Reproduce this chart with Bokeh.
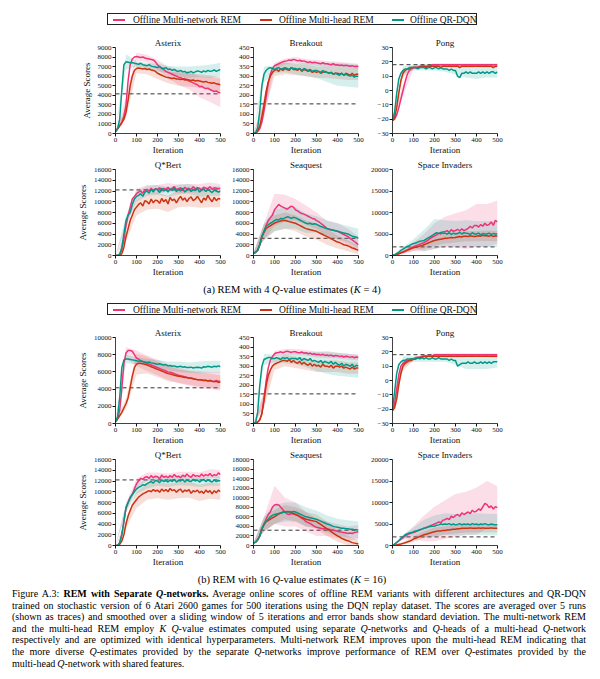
from bokeh.plotting import figure
from bokeh.layouts import column, row
from bokeh.models import Div, FixedTicker, Range1d, Span
from bokeh.embed import file_html
from bokeh.resources import INLINE

FONT = "Liberation Serif"
ITER = list(range(0, 501, 10))
BAND_ITER = list(range(0, 501, 50))

SERIES = ["Offline Multi-network REM", "Offline Multi-head REM", "Offline QR-DQN"]
COLORS = ["#ee3377", "#cc3311", "#009988"]
GAMES = ["Asterix", "Breakout", "Pong", "Q*Bert", "Seaquest", "Space Invaders"]
DQN_SCORE = [4150, 155, 18, 12200, 3200, 2000]
YMIN = [0, 0, -30, 0, 0, 0]
K4_YMAX = [9000, 450, 30, 16000, 16000, 20000]
K4_YSTEP = [1000, 50, 10, 2000, 2000, 5000]
K16_YMAX = [10000, 450, 30, 16000, 18000, 20000]
K16_YSTEP = [2000, 50, 10, 2000, 2000, 5000]
X_TICKS = [0, 100, 200, 300, 400, 500]

# ---------------- K = 4 ----------------
K4_ASTERIX_MULTINET = [200,500,800,1200,1800,3000,5500,7200,7800,8000,8050, 8000,7950,8000,7900,7850, 7800,7750,7700,7500,7200, 7000,6800,6700,6500,6400, 6300,6200,6100,6000,5900, 5850,5700,5750,5600,5500, 5400,5300,5200,5100,4900, 4950,4800,4700,4750,4600, 4500,4400,4450,4300,4250]
K4_ASTERIX_MULTIHEAD = [200,500,800,1100,1500,2200,3500,5000,6000,6600,6800, 6850,6800,6750,6800,6700, 6750,6650,6600,6500,6300, 6200,6100,6000,5900,5850, 5800,5750,5800,5700,5700, 5650,5700,5600,5650,5600, 5550,5600,5500,5550,5500, 5450,5400,5450,5350,5300, 5250,5300,5200,5150,5100]
K4_ASTERIX_QRDQN = [200,500,1500,4500,7200,7500,7450,7400,7420,7350,7300, 7250,7350,7200,7150,7100, 7200,7050,7000,6950,6900, 7000,6850,6800,6900,6700, 6750,6600,6700,6550,6500, 6600,6450,6500,6350,6400, 6500,6350,6450,6550,6500, 6400,6550,6450,6600,6500, 6550,6650,6500,6600,6700]
K4_ASTERIX_MULTINET_SD = [100,800,400,400,500,600,800,900,1100,1300,1500]
K4_ASTERIX_MULTIHEAD_SD = [100,600,500,500,600,600,700,700,700,800,800]
K4_ASTERIX_QRDQN_SD = [100,800,300,300,400,400,500,600,600,700,700]

K4_BREAKOUT_MULTINET = [0,3,10,25,60,120,190,260,310,340,355, 360,365,370,375,378, 380,385,382,388,385, 380,383,378,380,375, 372,375,370,373,370, 368,365,370,365,365, 362,360,365,358,360, 356,358,355,357,355, 352,355,350,352,350]
K4_BREAKOUT_MULTIHEAD = [0,3,15,40,90,150,220,270,300,320,330, 335,325,340,330,340, 335,330,345,335,335, 330,340,325,335,330, 325,330,320,325,320, 325,315,320,325,320, 315,320,310,315,315, 310,315,305,315,310, 305,315,305,310,310]
K4_BREAKOUT_QRDQN = [0,5,30,120,250,310,330,340,345,340,335, 340,345,335,340,345, 340,335,345,340,340, 335,340,330,340,335, 330,335,325,330,330, 325,320,330,320,320, 315,320,310,315,310, 305,315,305,310,305, 300,305,295,300,300]
K4_BREAKOUT_MULTINET_SD = [2,40,15,15,15,15,15,15,15,15,15]
K4_BREAKOUT_MULTIHEAD_SD = [2,40,30,30,30,30,30,30,30,30,30]
K4_BREAKOUT_QRDQN_SD = [2,40,20,25,30,35,40,50,60,60,60]

K4_PONG_MULTINET = [-21,-20,-17,-12,-6,0,6,11,14,15,16, 16,16,17,17,17, 17,17,17,18,18, 18,18,18,18,18, 18,18,18,18,18, 18,18,18,18,18, 18,18,18,18,18, 18,18,18,18,18, 18,18,18,18,18]
K4_PONG_MULTIHEAD = [-21,-19,-12,-2,7,12,14,15,15,16,16, 16,16,16,17,17, 16,17,17,17,17, 17,17,16,17,17, 17,17,17,17,17, 17,16,17,17,17, 17,17,17,17,17, 17,17,17,17,17, 17,17,16,17,17]
K4_PONG_QRDQN = [-21,-15,-2,8,12,14,15,15,16,16,16, 16,15,16,16,16, 15,16,16,15,16, 16,15,16,15,15, 15,14,15,14,14, 10,9,12,12,13, 12,13,12,12,12, 13,12,13,12,13, 12,13,13,12,13]
K4_PONG_MULTINET_SD = [0.5,4,1,1,1,1,1,1,1,1,1]
K4_PONG_MULTIHEAD_SD = [0.5,3,1,1,1,1,1,1,1,1,1]
K4_PONG_QRDQN_SD = [0.5,3,2,2,2,2,3,4,4,4,4]

K4_QBERT_MULTINET = [0,0,200,1000,3000,5500,7500,9000,10500,11000,11500, 11800,12000,11600,12200,12300, 12000,12500,12100,12400,12300, 12600,12000,12500,12300,12700, 12200,12500,12800,12300,12400, 12600,12100,12700,12400,12500, 12300,12800,12400,12600,12500, 12200,12700,12500,12400,12800, 12300,12600,12500,12400,12500]
K4_QBERT_MULTIHEAD = [0,0,100,300,1500,3500,5000,6500,7500,8500,9000, 9500,9800,9200,10200,10000, 9600,10500,9800,10300,10200, 9700,10600,10000,10400,9600, 10800,10200,10500,9800,10500, 11000,10300,10700,10000,10600, 10900,10200,10500,11000,10400, 9800,10700,10300,11200,10500, 10000,10800,10200,10600,10500]
K4_QBERT_QRDQN = [0,0,300,1500,4000,6500,7500,8000,9500,10500,11000, 11200,11500,11000,11800,12000, 11600,12300,11800,12400,12200, 11700,12500,12000,12300,11800, 12400,12100,12600,11900,12300, 12000,12500,11800,12200,12400, 11900,12300,12100,12500,11800, 12200,12400,11900,12300,12000, 11700,12200,12000,11800,12000]
K4_QBERT_MULTINET_SD = [0,800,900,800,800,800,800,800,800,800,800]
K4_QBERT_MULTIHEAD_SD = [0,800,1500,1500,1500,1500,1500,1500,1500,1500,1500]
K4_QBERT_QRDQN_SD = [0,800,1000,900,900,900,900,900,900,900,900]

K4_SEAQUEST_MULTINET = [400,600,1000,2000,3500,4500,5500,6500,7000,7500,8500, 9000,9500,9200,9000,8800, 8600,8900,9200,9000,8500, 8300,8000,7800,7700,7500, 7300,7100,6900,6800,6500, 6300,6000,5700,5400,5000, 4900,4800,4700,4600,4500, 4300,4100,3900,3700,3500, 3200,2900,2600,2300,2000]
K4_SEAQUEST_MULTIHEAD = [400,600,1000,2000,3500,4300,5000,5300,5500,5800,6000, 6200,6300,6400,6500,6500, 6400,6300,6200,6100,6000, 5800,5600,5400,5200,5000, 4900,4800,4700,4600,4500, 4300,4100,3900,3700,3500, 3300,3100,2900,2700,2500, 2400,2200,2000,1900,1800, 1600,1400,1300,1100,1000]
K4_SEAQUEST_QRDQN = [400,600,1000,2000,3500,4500,5500,5700,6000,6200,6500, 6700,6600,6900,6800,7000, 7200,7100,6900,7100,7000, 6800,6600,6400,6200,6000, 5900,6000,5800,5900,5800, 5600,5400,5300,5100,5000, 4900,4800,4700,4600,4500, 4400,4300,4200,4100,4000, 3800,3600,3500,3400,3200]
K4_SEAQUEST_MULTINET_SD = [100,1500,3000,2500,2000,1800,1500,1500,1500,1500,1500]
K4_SEAQUEST_MULTIHEAD_SD = [100,1500,1500,1500,1500,1500,1500,1500,1200,1000,800]
K4_SEAQUEST_QRDQN_SD = [100,1500,2000,2000,2000,1800,1500,1500,1500,1500,1800]

K4_SPACEINV_MULTINET = [0,100,250,400,600,800,1000,1300,1500,1800,2000, 2200,2400,2600,2800,3000, 3300,3600,4000,4300,4500, 4800,5200,5000,5500,5500, 5800,5400,6000,5600,5800, 6100,5700,6200,5800,6000, 6300,6800,6400,7000,7000, 6600,7200,6800,7500,7000, 7200,7800,7000,8200,7800]
K4_SPACEINV_MULTIHEAD = [0,100,250,400,600,800,1000,1200,1400,1600,1800, 1900,2000,2200,2300,2500, 2700,2900,3100,3300,3500, 3600,3700,3800,3900,4000, 4000,4100,4200,4100,4200, 4300,4400,4300,4500,4500, 4400,4600,4500,4400,4500, 4600,4500,4700,4600,4600, 4500,4700,4400,4600,4500]
K4_SPACEINV_QRDQN = [0,200,500,800,1200,1500,1800,2100,2300,2600,2800, 2900,3100,3300,3400,3500, 3800,4100,4400,4700,5000, 5300,5100,5400,5200,5200, 5000,5300,4900,5200,5000, 5100,5400,5000,5300,5200, 5100,4900,5300,5000,5000, 5200,4800,5100,5000,5000, 5200,4900,5100,5000,5000]
K4_SPACEINV_MULTINET_SD = [0,500,1000,2000,3000,3500,4000,4500,5000,5000,5000]
K4_SPACEINV_MULTIHEAD_SD = [0,300,700,1000,1200,1200,1200,1200,1200,1200,1200]
K4_SPACEINV_QRDQN_SD = [0,500,1000,2500,3500,3000,3000,3000,3000,3000,3000]

# ---------------- K = 16 ----------------
K16_ASTERIX_MULTINET = [200,600,1500,4000,7000,8200,8500,8500,8400,8000,7600, 7500,7300,7200,7100,7000, 6900,6800,6700,6600,6500, 6400,6300,6200,6100,6000, 5950,5900,5800,5700,5600, 5550,5500,5450,5350,5300, 5300,5200,5150,5100,5100, 5050,5000,5050,4950,5000, 4950,4900,5000,4900,4900]
K16_ASTERIX_MULTIHEAD = [200,500,900,1300,1800,2300,3000,4200,5500,6500,6900, 7000,7000,6950,6900,6800, 6700,6600,6500,6400,6300, 6200,6100,6000,5900,5800, 5750,5700,5600,5550,5500, 5450,5400,5350,5350,5300, 5250,5200,5150,5100,5100, 5050,5000,5000,4950,5000, 4900,4850,4900,4800,4800]
K16_ASTERIX_QRDQN = [200,800,3000,6500,7400,7500,7500,7450,7400,7350,7300, 7250,7300,7200,7150,7100, 7150,7050,7000,6950,6900, 6950,6850,6800,6850,6700, 6750,6650,6700,6600,6600, 6650,6550,6600,6500,6500, 6550,6450,6500,6550,6500, 6450,6600,6550,6650,6600, 6550,6650,6600,6700,6600]
K16_ASTERIX_MULTINET_SD = [100,700,900,900,900,900,900,900,1000,1000,1100]
K16_ASTERIX_MULTIHEAD_SD = [100,600,1200,1000,900,900,800,800,800,800,800]
K16_ASTERIX_QRDQN_SD = [100,500,400,400,500,500,600,600,700,700,700]

K16_BREAKOUT_MULTINET = [0,2,8,20,55,130,220,290,330,350,365, 370,372,375,370,375, 378,375,372,376,375, 372,370,374,368,370, 365,368,362,365,360, 362,358,362,356,358, 355,358,352,356,355, 350,354,348,352,350, 346,350,344,348,345]
K16_BREAKOUT_MULTIHEAD = [0,2,8,20,50,120,200,250,280,300,310, 315,320,325,330,330, 325,335,320,330,320, 315,325,310,320,310, 305,315,300,310,300, 305,295,310,300,300, 295,305,290,300,300, 295,300,290,295,290, 285,295,285,290,290]
K16_BREAKOUT_QRDQN = [0,5,60,200,300,335,340,345,345,340,340, 345,340,335,345,340, 345,335,340,340,340, 335,345,330,340,335, 330,340,325,330,325, 320,330,315,325,320, 315,325,310,320,310, 305,315,300,310,305, 300,310,295,305,300]
K16_BREAKOUT_MULTINET_SD = [2,40,15,15,15,15,15,15,15,15,15]
K16_BREAKOUT_MULTIHEAD_SD = [2,40,30,30,30,30,30,30,30,30,30]
K16_BREAKOUT_QRDQN_SD = [2,30,20,25,30,40,50,60,60,60,60]

K16_PONG_MULTINET = [-21,-16,-6,4,10,12,13,14,14,15,15, 16,16,16,17,17, 17,17,17,17,18, 18,18,18,18,18, 18,18,18,18,18, 18,18,18,18,18, 18,18,18,18,18, 18,18,18,18,18, 18,18,18,18,18]
K16_PONG_MULTIHEAD = [-21,-19,-13,-3,5,10,12,13,14,14,15, 15,16,16,16,17, 17,17,17,17,17, 17,17,17,17,17, 17,17,17,17,17, 17,17,17,17,17, 17,17,17,17,17, 17,17,17,17,17, 17,17,17,17,17]
K16_PONG_QRDQN = [-20,-8,5,11,13,14,14,15,15,15,15, 15,16,15,16,15, 16,15,15,16,15, 15,16,15,15,15, 15,14,15,14,14, 10,11,12,12,12, 13,12,12,13,12, 12,13,12,13,12, 13,12,13,13,13]
K16_PONG_MULTINET_SD = [0.5,3,1,1,1,1,1,1,1,1,1]
K16_PONG_MULTIHEAD_SD = [0.5,3,1,1,1,1,1,1,1,1,1]
K16_PONG_QRDQN_SD = [0.5,3,2,2,2,2,3,4,4,4,4]

K16_QBERT_MULTINET = [0,0,500,2000,4500,7000,8000,9000,9500,10500,11500, 12000,12500,12300,12700,12800, 12500,13000,12600,12900,12800, 12400,13100,12700,12900,12600, 13000,12700,13200,12800,12900, 12600,13100,12800,13300,12900, 12700,13200,12900,13000,12800, 13300,12900,13200,13000,13400, 12900,13200,13000,13500,13200]
K16_QBERT_MULTIHEAD = [0,0,200,800,2000,4000,5500,6500,7500,8000,8500, 9000,9300,9600,9800,10000, 10200,10000,10400,10100,10300, 9900,10500,10100,10400,10000, 10600,10200,10400,9900,10300, 10500,9900,10300,10100,10400, 9700,10200,10000,10300,9800, 10100,9700,10300,9900,10200, 9600,10200,9800,10300,10000]
K16_QBERT_QRDQN = [0,0,500,2000,4500,7000,8000,8800,9500,10000,10500, 10800,11000,11300,11200,11500, 11700,11900,11600,12100,12000, 11700,12200,11900,12100,11800, 12200,11900,12300,11800,12100, 12000,12300,11800,12200,12000, 11900,12300,12000,12200,11800, 12100,12300,11900,12200,12000, 11800,12200,11900,12100,12000]
K16_QBERT_MULTINET_SD = [0,800,900,800,800,800,800,800,800,800,800]
K16_QBERT_MULTIHEAD_SD = [0,800,1500,1500,1500,1500,1500,1500,1500,1500,1500]
K16_QBERT_QRDQN_SD = [0,800,900,900,900,900,900,900,900,900,900]

K16_SEAQUEST_MULTINET = [500,700,1200,2000,3500,4500,5500,6500,7000,8000,8500, 8600,8500,8000,7500,7000, 6600,6500,6700,6600,6500, 6300,6000,5700,5400,5000, 4800,4600,4300,4000,3800, 3700,3600,3500,3500,3500, 3400,3300,3200,3100,3000, 2900,2800,2700,2600,2500, 2600,2500,2700,2800,2800]
K16_SEAQUEST_MULTIHEAD = [500,700,1200,2000,3500,4300,5000,5200,5500,5800,6000, 6300,6600,6800,7000,7000, 7100,7000,6900,6700,6500, 6300,6100,5900,5700,5500, 5400,5300,5200,5100,5000, 4700,4400,4100,3800,3500, 3200,2900,2600,2300,2000, 1800,1500,1300,1100,1000, 800,600,500,400,300]
K16_SEAQUEST_QRDQN = [500,700,1200,2000,3500,4500,5000,5500,6000,6300,6500, 6600,6700,6800,6900,7000, 7000,7100,7000,7100,7000, 6800,6600,6400,6200,6000, 5900,5800,5700,5600,5500, 5300,5100,4900,4700,4500, 4400,4200,4000,3900,3800, 3700,3600,3600,3500,3500, 3400,3400,3300,3300,3200]
K16_SEAQUEST_MULTINET_SD = [100,1500,4000,3000,2500,2000,1800,1500,1500,1500,1500]
K16_SEAQUEST_MULTIHEAD_SD = [100,1500,1500,1500,1500,1500,1500,1500,1200,1000,800]
K16_SEAQUEST_QRDQN_SD = [100,1500,2000,2000,2000,2000,1800,1800,1800,1800,1800]

K16_SPACEINV_MULTINET = [0,300,700,1100,1500,1800,2200,2500,2700,2900,3000, 3200,3400,3600,3800,4000, 4200,4400,4600,4800,5000, 5200,5500,5300,5900,6000, 6300,6000,6800,6500,7000, 7200,6800,7600,7200,7500, 7800,7400,8200,7800,8000, 8500,8200,9000,9800,9500, 8800,9200,8500,9000,8800]
K16_SPACEINV_MULTIHEAD = [0,80,150,250,350,500,650,800,1000,1200,1500, 1700,1900,2100,2300,2500, 2600,2800,2900,3100,3200, 3300,3400,3400,3500,3500, 3600,3600,3700,3800,3800, 3900,3900,4000,4000,4000, 4000,4100,4000,4000,4000, 4100,4000,4100,4000,4000, 4000,4100,4000,4000,4000]
K16_SPACEINV_QRDQN = [0,300,700,1100,1600,2000,2500,2700,2900,3000,3200, 3400,3500,3700,3800,4000, 4100,4300,4400,4500,4500, 4700,4800,5000,4900,5000, 4900,5100,4800,5000,4800, 4900,5100,4800,5000,4900, 5000,4800,5100,4900,5000, 4800,5000,4900,5100,4900, 4800,5000,4900,4800,4800]
K16_SPACEINV_MULTINET_SD = [0,500,1500,3000,4000,4500,5000,5000,5500,5500,5000]
K16_SPACEINV_MULTIHEAD_SD = [0,300,600,800,1000,1000,1000,1000,1000,1000,1000]
K16_SPACEINV_QRDQN_SD = [0,500,1000,2000,2500,2500,2500,2500,2500,2500,2500]

K4_MEANS = [
    (K4_ASTERIX_MULTINET, K4_ASTERIX_MULTIHEAD, K4_ASTERIX_QRDQN),
    (K4_BREAKOUT_MULTINET, K4_BREAKOUT_MULTIHEAD, K4_BREAKOUT_QRDQN),
    (K4_PONG_MULTINET, K4_PONG_MULTIHEAD, K4_PONG_QRDQN),
    (K4_QBERT_MULTINET, K4_QBERT_MULTIHEAD, K4_QBERT_QRDQN),
    (K4_SEAQUEST_MULTINET, K4_SEAQUEST_MULTIHEAD, K4_SEAQUEST_QRDQN),
    (K4_SPACEINV_MULTINET, K4_SPACEINV_MULTIHEAD, K4_SPACEINV_QRDQN),
]
K4_SDS = [
    (K4_ASTERIX_MULTINET_SD, K4_ASTERIX_MULTIHEAD_SD, K4_ASTERIX_QRDQN_SD),
    (K4_BREAKOUT_MULTINET_SD, K4_BREAKOUT_MULTIHEAD_SD, K4_BREAKOUT_QRDQN_SD),
    (K4_PONG_MULTINET_SD, K4_PONG_MULTIHEAD_SD, K4_PONG_QRDQN_SD),
    (K4_QBERT_MULTINET_SD, K4_QBERT_MULTIHEAD_SD, K4_QBERT_QRDQN_SD),
    (K4_SEAQUEST_MULTINET_SD, K4_SEAQUEST_MULTIHEAD_SD, K4_SEAQUEST_QRDQN_SD),
    (K4_SPACEINV_MULTINET_SD, K4_SPACEINV_MULTIHEAD_SD, K4_SPACEINV_QRDQN_SD),
]
K16_MEANS = [
    (K16_ASTERIX_MULTINET, K16_ASTERIX_MULTIHEAD, K16_ASTERIX_QRDQN),
    (K16_BREAKOUT_MULTINET, K16_BREAKOUT_MULTIHEAD, K16_BREAKOUT_QRDQN),
    (K16_PONG_MULTINET, K16_PONG_MULTIHEAD, K16_PONG_QRDQN),
    (K16_QBERT_MULTINET, K16_QBERT_MULTIHEAD, K16_QBERT_QRDQN),
    (K16_SEAQUEST_MULTINET, K16_SEAQUEST_MULTIHEAD, K16_SEAQUEST_QRDQN),
    (K16_SPACEINV_MULTINET, K16_SPACEINV_MULTIHEAD, K16_SPACEINV_QRDQN),
]
K16_SDS = [
    (K16_ASTERIX_MULTINET_SD, K16_ASTERIX_MULTIHEAD_SD, K16_ASTERIX_QRDQN_SD),
    (K16_BREAKOUT_MULTINET_SD, K16_BREAKOUT_MULTIHEAD_SD, K16_BREAKOUT_QRDQN_SD),
    (K16_PONG_MULTINET_SD, K16_PONG_MULTIHEAD_SD, K16_PONG_QRDQN_SD),
    (K16_QBERT_MULTINET_SD, K16_QBERT_MULTIHEAD_SD, K16_QBERT_QRDQN_SD),
    (K16_SEAQUEST_MULTINET_SD, K16_SEAQUEST_MULTIHEAD_SD, K16_SEAQUEST_QRDQN_SD),
    (K16_SPACEINV_MULTINET_SD, K16_SPACEINV_MULTIHEAD_SD, K16_SPACEINV_QRDQN_SD),
]

CAPTION_A = '(a) REM with 4 <i>Q</i>-value estimates (<i>K</i> = 4)'
CAPTION_B = '(b) REM with 16 <i>Q</i>-value estimates (<i>K</i> = 16)'
FIG_CAPTION_LINES = [
    'Figure A.3: <b>REM with Separate <i>Q</i>-networks.</b> Average online scores of offline REM variants with different architectures and QR-DQN',
    'trained on stochastic version of 6 Atari 2600 games for 500 iterations using the DQN replay dataset. The scores are averaged over 5 runs',
    '(shown as traces) and smoothed over a sliding window of 5 iterations and error bands show standard deviation. The multi-network REM',
    'and the multi-head REM employ <i>K</i> <i>Q</i>-value estimates computed using separate <i>Q</i>-networks and <i>Q</i>-heads of a multi-head <i>Q</i>-network',
    'respectively and are optimized with identical hyperparameters. Multi-network REM improves upon the multi-head REM indicating that',
    'the more diverse <i>Q</i>-estimates provided by the separate <i>Q</i>-networks improve performance of REM over <i>Q</i>-estimates provided by the',
    'multi-head <i>Q</i>-network with shared features.',
]

COL_BORDERS = [(107, 8), (25, 9), (25, 95)]
ROW_BORDERS = [(15, 22), (10, 23)]


def panel(gi, means, sds, ymax, ystep, col, rpos):
    ymin = YMIN[gi]
    left, right = COL_BORDERS[col]
    top, bottom = ROW_BORDERS[rpos]
    p = figure(frame_width=105, frame_height=86, min_border_left=left, min_border_right=right,
               min_border_top=top, min_border_bottom=bottom,
               x_range=Range1d(0, 500), y_range=Range1d(ymin, ymax),
               output_backend="svg", toolbar_location=None, tools="")
    p.outline_line_color = None
    p.grid.visible = False
    p.background_fill_color = "white"
    p.border_fill_color = "white"
    for m, s, c in zip(means, sds, COLORS):
        mb = [m[ITER.index(b)] for b in BAND_ITER]
        p.varea(x=BAND_ITER, y1=[a - d for a, d in zip(mb, s)], y2=[a + d for a, d in zip(mb, s)],
                fill_color=c, fill_alpha=0.16)
    p.add_layout(Span(location=DQN_SCORE[gi], dimension="width", line_color="#333333",
                      line_dash="4 3", line_width=1, level="underlay"))
    for m, c in zip(means, COLORS):
        p.line(ITER, m, line_color=c, line_width=1.5)
    yt = list(range(ymin, ymax + 1, ystep))
    p.xaxis.ticker = FixedTicker(ticks=X_TICKS)
    p.yaxis.ticker = FixedTicker(ticks=yt)
    if ymin < 0:
        p.yaxis.major_label_overrides = {t: "\u2212" + str(-t) for t in yt if t < 0}
    for ax in (p.xaxis[0], p.yaxis[0]):
        ax.major_label_text_font = FONT
        ax.major_label_text_font_size = "7px"
        ax.major_label_text_color = "#111111"
        ax.major_tick_out = 3
        ax.major_tick_in = 0
        ax.minor_tick_out = 0
        ax.minor_tick_in = 0
        ax.axis_line_color = "#111111"
        ax.major_tick_line_color = "#111111"
        ax.axis_line_width = 0.8
        ax.major_label_standoff = 1
    p.xaxis.axis_label = "Iteration"
    p.xaxis.axis_label_text_font = FONT
    p.xaxis.axis_label_text_font_size = "9px"
    p.xaxis.axis_label_text_font_style = "normal"
    p.xaxis.axis_label_text_color = "#111111"
    p.xaxis.axis_label_standoff = 0
    if col == 0:
        p.yaxis.axis_label = "Average Scores"
        p.yaxis.axis_label_text_font = FONT
        p.yaxis.axis_label_text_font_size = "9px"
        p.yaxis.axis_label_text_font_style = "normal"
        p.yaxis.axis_label_text_color = "#111111"
        p.yaxis.axis_label_standoff = 3
    p.title.text = GAMES[gi]
    p.title.align = "center"
    p.title.text_font = FONT
    p.title.text_font_size = "9px"
    p.title.text_font_style = "normal"
    p.title.text_color = "#111111"
    p.title.standoff = 0
    p.title.offset = 0
    return p


def legend_div():
    lines_left = [105, 252, 384]
    labels_left = [125, 271, 402]
    parts = ['<div style="position:relative;width:584px;height:24px;font-family:\'Liberation Serif\';'
             'font-size:9.5px;color:#111;">',
             '<div style="position:absolute;left:99px;top:5px;width:370px;height:12px;'
             'border:1px solid #222;background:#fff;"></div>']
    for name, c, lx, tx in zip(SERIES, COLORS, lines_left, labels_left):
        parts.append('<div style="position:absolute;left:%dpx;top:11px;width:12px;height:2px;background:%s;"></div>' % (lx, c))
        parts.append('<span style="position:absolute;left:%dpx;top:5px;line-height:14px;white-space:nowrap;">%s</span>' % (tx, name))
    parts.append('</div>')
    return Div(text="".join(parts), width=584, height=24, margin=0)


def caption_div(html):
    return Div(text=('<div style="width:568px;height:19px;line-height:21px;text-align:center;white-space:nowrap;'
                     'font-family:\'Liberation Serif\';font-size:10.5px;color:#000;">' + html + '</div>'),
               width=584, height=19, margin=0)


def group(means, sds, ymaxs, ysteps, cap):
    rows = []
    for rpos in range(2):
        figs = []
        for col in range(3):
            gi = rpos * 3 + col
            figs.append(panel(gi, means[gi], sds[gi], ymaxs[gi], ysteps[gi], col, rpos))
        rows.append(row(*figs, spacing=0))
    return [legend_div(), rows[0], rows[1], caption_div(cap)]


line_html = []
for i, ln in enumerate(FIG_CAPTION_LINES):
    last = "left" if i == len(FIG_CAPTION_LINES) - 1 else "justify"
    line_html.append('<div style="text-align:justify;text-align-last:%s;word-spacing:-0.6px;">%s</div>' % (last, ln))
fig_caption = Div(text=('<div style="width:578px;padding-left:4px;font-family:\'Liberation Serif\';'
                        'font-size:10px;line-height:11.6px;color:#000;">' + "".join(line_html) + '</div>'),
                  width=584, height=84, margin=0)

layout = column(*group(K4_MEANS, K4_SDS, K4_YMAX, K4_YSTEP, CAPTION_A),
                *group(K16_MEANS, K16_SDS, K16_YMAX, K16_YSTEP, CAPTION_B),
                fig_caption, spacing=0, margin=(8, 8, 0, 8))

open("out.html", "w").write(file_html(layout, INLINE))
